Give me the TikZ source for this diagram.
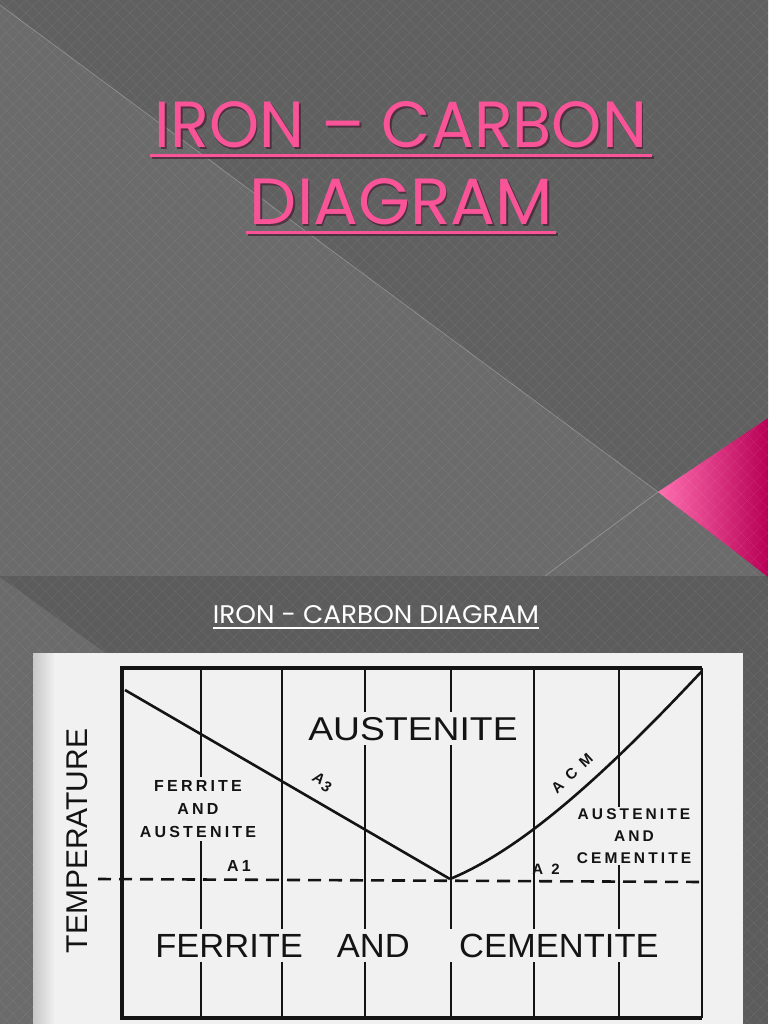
\documentclass[tikz,border=0pt]{standalone}
\usepackage{fontspec}
\usepackage{graphicx}
\setmainfont{Liberation Sans}
\newfontfamily\labelfont[LetterSpace=20]{Liberation Sans}
\newfontfamily\widelabelfont[LetterSpace=55]{Liberation Sans}
\newfontfamily\gothic{Poppins}

\definecolor{slidedark}{RGB}{96,96,96}
\definecolor{slidelight}{RGB}{107,107,107}
\definecolor{bandgray}{RGB}{92,92,92}
\definecolor{panelwhite}{RGB}{241,241,241}
\definecolor{titlepink}{RGB}{250,84,152}
\definecolor{titlerim}{RGB}{70,30,50}
\definecolor{pinklight}{RGB}{255,110,175}
\definecolor{pinkmid}{RGB}{240,0,125}
\definecolor{pinkdark}{RGB}{185,0,85}
\definecolor{ink}{RGB}{20,20,20}

\tikzset{
  texture/.style={white, opacity=0.07, line width=0.6pt},
  gridline/.style={ink, line width=1.6pt},
  phaseline/.style={ink, line width=2.6pt, line join=round},
  region/.style={fill=panelwhite, inner sep=3pt, text=ink},
  critlabel/.style={font=\labelfont\bfseries\fontsize{16}{23}\selectfont, text=ink, inner sep=1pt},
  widelabel/.style={font=\widelabelfont\bfseries\fontsize{15}{15}\selectfont, text=ink, inner sep=1pt},
  headline/.style={font=\gothic, anchor=base, inner sep=0pt},
}

\begin{document}
\begin{tikzpicture}[x=1pt,y=-1pt]
\useasboundingbox (0,0) rectangle (768,1024);
% slide background
\fill[bandgray] (0,0) rectangle (768,1024);
\fill[slidelight] (0,0) rectangle (768,576);
\fill[slidedark] (0,0) -- (0,5) -- (658,492) -- (768,418) -- (768,0) -- cycle;
\fill[slidelight] (0,577) -- (620,1024) -- (0,1024) -- cycle;
\shade[left color=pinklight, middle color=pinkmid, right color=pinkdark] (658,492) -- (768,418) -- (768,577) -- cycle;
\begin{scope}
  \clip (0,0) rectangle (768,1024);
  \foreach \k in {-1040,-1027,...,780} {
    \draw[texture] (\k,0) -- ++(1040,1040);
    \draw[texture] (\k+1040,0) -- ++(-1040,1040);
  }
\end{scope}
\draw[white, opacity=0.25, line width=0.8pt] (0,5) -- (658,492) -- (545,576);

% title
\node[headline, text=titlerim, opacity=0.7] (title1rim) at (402.5,149.5) {\resizebox{492pt}{46pt}{IRON – CARBON}};
\node[headline, text=titlerim, opacity=0.7] (title2rim) at (403,226.5) {\resizebox{303pt}{46pt}{DIAGRAM}};
\draw[titlerim, opacity=0.7, line width=3pt] (151.5,157.5) -- (653.5,157.5);
\draw[titlerim, opacity=0.7, line width=3pt] (247.5,234.5) -- (557.5,234.5);
\node[headline, text=titlepink] (title1) at (401,148) {\resizebox{492pt}{46pt}{IRON – CARBON}};
\node[headline, text=titlepink] (title2) at (401.5,225) {\resizebox{303pt}{46pt}{DIAGRAM}};
\draw[titlepink, line width=3pt] (150,156) -- (652,156);
\draw[titlepink, line width=3pt] (246,233) -- (556,233);

\node[headline, text=white] (subtitle) at (376,623) {\resizebox{326pt}{18pt}{IRON - CARBON DIAGRAM}};
\draw[white, line width=2pt] (213,628) -- (539,628);

% panel
\fill[panelwhite] (33,653) rectangle (743,1024);
\shade[left color=black!22, right color=panelwhite] (33,653) rectangle (55,1024);

% grid
\foreach \gx in {201,282,365,451,534,619}
  \draw[gridline] (\gx,668) -- (\gx,1018);

\node[region, font=\fontsize{33}{33}\selectfont, anchor=base, inner ysep=5pt] (austenite) at (413,740) {\scalebox{1.13}[1]{AUSTENITE}};
\node[region, font=\fontsize{33.5}{33.5}\selectfont, anchor=base, inner ysep=5pt] (ferritecem) at (407,957) {\scalebox{1.03}[1]{FERRITE\hspace{33pt}AND\hspace{48pt}CEMENTITE}};
\node[region, critlabel, align=center, inner sep=3pt] (ferriteaus) at (198,809) {FERRITE\\AND\\AUSTENITE};
\node[region, critlabel, align=center, inner sep=2pt, font=\labelfont\bfseries\fontsize{15.5}{22}\selectfont] (austcem) at (634,836) {AUSTENITE\\AND\\CEMENTITE};

\node[critlabel] (aone) at (239,866) {A1};
\node[widelabel] (atwo) at (546,869) {A2};
\node[critlabel, rotate=-27, font=\bfseries\itshape\fontsize{15}{15}\selectfont] (athree) at (322,782) {A\kern1pt\raisebox{-4pt}{3}};
\node[widelabel, rotate=43] (acm) at (572,773) {ACM};

\node[font=\fontsize{30}{30}\selectfont, text=ink, rotate=90] (temp) at (77.5,841) {TEMPERATURE};

% phase boundaries
\coordinate (athreetop) at (125,690);
\coordinate (eutectoid) at (450,879);
\coordinate (acmtop) at (702,671);
\draw[phaseline] (athreetop) -- (eutectoid);
\draw[phaseline] (eutectoid) .. controls (520,850) and (600,780) .. (acmtop);
\draw[ink, line width=2.6pt, dash pattern=on 13pt off 8pt] (98,879) -- (704,882);

% box
\draw[ink, line width=3.5pt] (702,668) -- (122,668) -- (122,1018) -- (702,1018);
\draw[ink, line width=2.2pt] (702,668) -- (702,1018);
\end{tikzpicture}
\end{document}
